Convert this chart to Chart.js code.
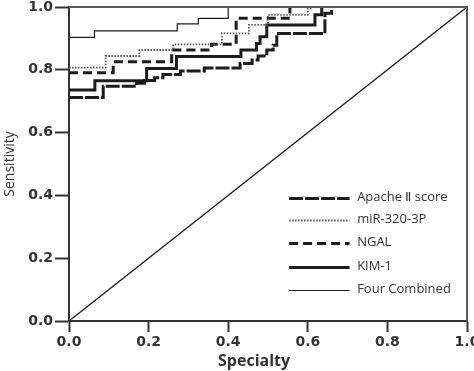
<!DOCTYPE html>
<html>
<head>
<meta charset="utf-8">
<script src="https://cdn.jsdelivr.net/npm/chart.js@4/dist/chart.umd.min.js"></script>
<style>
  html, body { margin: 0; padding: 0; background: #fff; }
  #wrap { width: 474px; height: 371px; }
</style>
</head>
<body>
<div id="wrap"><canvas id="c" width="474" height="371"></canvas></div>
<script>
// ---- Data ----
const seriesNames = ["Apache \u2161 score", "miR-320-3P", "NGAL", "KIM-1", "Four Combined"];

// Step change points: x = 1 - specificity ("Specialty" axis), y = sensitivity
const apacheX = [0, 0.086, 0.17, 0.19, 0.215, 0.236, 0.28, 0.34, 0.43, 0.46, 0.475, 0.497, 0.513, 0.522, 0.643, 0.66];
const apacheY = [0.712, 0.748, 0.757, 0.766, 0.775, 0.785, 0.796, 0.806, 0.82, 0.831, 0.844, 0.863, 0.878, 0.916, 0.98, 1.0];

const mirX = [0, 0.092, 0.177, 0.262, 0.384, 0.452, 0.50, 0.60, 0.61];
const mirY = [0.807, 0.844, 0.863, 0.881, 0.916, 0.943, 0.975, 0.995, 1.0];

const ngalX = [0, 0.111, 0.258, 0.358, 0.42, 0.555];
const ngalY = [0.791, 0.826, 0.863, 0.881, 0.964, 1.0];

const kimX = [0, 0.065, 0.195, 0.27, 0.432, 0.471, 0.48, 0.497, 0.618, 0.635];
const kimY = [0.736, 0.765, 0.804, 0.842, 0.863, 0.884, 0.905, 0.943, 0.975, 1.0];

const fourX = [0, 0.064, 0.272, 0.325, 0.40];
const fourY = [0.903, 0.924, 0.946, 0.964, 1.0];

const refX = [0, 1];
const refY = [0, 1];

const xTickValues = [0, 0.2, 0.4, 0.6, 0.8, 1.0];
const yTickValues = [0, 0.2, 0.4, 0.6, 0.8, 1.0];
const xTitle = "Specialty";
const yTitle = "Sensitivity";

// ---- Build ----
function pts(xs, ys) { return xs.map((x, i) => ({ x: x, y: ys[i] })); }

const INK = '#1c1c1c';
const TXT = '#333333';

const datasets = [
  { label: seriesNames[4], data: pts(fourX, fourY), borderColor: INK, borderWidth: 1.2 },
  { label: seriesNames[1], data: pts(mirX, mirY), borderColor: '#555', borderWidth: 1.8, borderDash: [1.5, 1.5] },
  { label: seriesNames[2], data: pts(ngalX, ngalY), borderColor: INK, borderWidth: 3, borderDash: [9, 5] },
  { label: seriesNames[3], data: pts(kimX, kimY), borderColor: INK, borderWidth: 3 },
  { label: seriesNames[0], data: pts(apacheX, apacheY), borderColor: INK, borderWidth: 3, borderDash: [14, 2] },
  { label: 'Reference', data: pts(refX, refY), borderColor: INK, borderWidth: 1.4, stepped: false }
];
datasets.forEach(d => {
  d.pointRadius = 0; d.fill = false; d.tension = 0; d.clip = false; d.borderCapStyle = 'butt';
  if (d.stepped === undefined) d.stepped = 'before';
});

const legendOrder = [seriesNames[0], seriesNames[1], seriesNames[2], seriesNames[3], seriesNames[4]];

const framePlugin = {
  id: 'frame',
  afterDatasetsDraw(chart) {
    const { ctx, chartArea: a } = chart;
    ctx.save();
    ctx.strokeStyle = '#5a5a5a';
    ctx.lineWidth = 2;
    ctx.beginPath();
    ctx.moveTo(a.left, a.top);
    ctx.lineTo(a.right, a.top);
    ctx.lineTo(a.right, a.bottom);
    ctx.stroke();
    ctx.restore();
  }
};

const legendPlugin = {
  id: 'rocLegend',
  afterDraw(chart) {
    const { ctx } = chart;
    const xs = chart.scales.x, ys = chart.scales.y;
    const x0 = xs.getPixelForValue(0.553);
    const x1 = xs.getPixelForValue(0.705);
    const xt = xs.getPixelForValue(0.724);
    const rowsY = [0.392, 0.322, 0.249, 0.173, 0.1];
    ctx.save();
    legendOrder.forEach((name, i) => {
      const ds = chart.data.datasets.find(d => d.label === name);
      const y = Math.round(ys.getPixelForValue(rowsY[i])) + 0.5;
      ctx.strokeStyle = ds.borderColor;
      ctx.lineWidth = ds.borderWidth;
      ctx.setLineDash(ds.borderDash || []);
      ctx.lineCap = 'butt';
      ctx.beginPath();
      ctx.moveTo(x0, y);
      ctx.lineTo(x1, y);
      ctx.stroke();
      ctx.setLineDash([]);
      ctx.fillStyle = TXT;
      ctx.font = '13px "Open Sans"';
      ctx.textBaseline = 'middle';
      ctx.textAlign = 'left';
      ctx.fillText(name, xt, y - 1);
    });
    // x-axis title (placed as in the reference, slightly left of centre)
    ctx.font = 'bold 16px "Open Sans"';
    ctx.textAlign = 'center';
    ctx.textBaseline = 'middle';
    ctx.fillText(xTitle, xs.getPixelForValue(0.465), xs.bottom - 10);
    ctx.restore();
  }
};

new Chart(document.getElementById('c'), {
  type: 'line',
  data: { datasets: datasets },
  plugins: [framePlugin, legendPlugin],
  options: {
    responsive: false,
    devicePixelRatio: 1,
    animation: false,
    layout: { padding: { top: 7, right: 7, left: 0, bottom: 0 } },
    plugins: { legend: { display: false }, tooltip: { enabled: false } },
    scales: {
      x: {
        type: 'linear', min: 0, max: 1,
        afterBuildTicks(s) { s.ticks = xTickValues.map(v => ({ value: v })); },
        afterFit(s) { s.height = 50; s.paddingLeft = 0; s.paddingRight = 0; },
        ticks: {
          color: TXT, padding: 2, maxRotation: 0, autoSkip: false,
          font: { family: 'DejaVu Sans', weight: 'bold', size: 14 },
          callback: v => Number(v).toFixed(1)
        },
        grid: { drawOnChartArea: false, tickLength: 11, tickWidth: 2, tickColor: '#333' },
        border: { display: true, color: '#333', width: 2 },
        title: { display: false }
      },
      y: {
        type: 'linear', min: 0, max: 1,
        afterBuildTicks(s) { s.ticks = yTickValues.map(v => ({ value: v })); },
        afterFit(s) { s.width = 69; s.paddingTop = 0; s.paddingBottom = 0; },
        ticks: {
          color: TXT, padding: 2, autoSkip: false,
          font: { family: 'DejaVu Sans', weight: 'bold', size: 14 },
          callback: v => Number(v).toFixed(1)
        },
        grid: { drawOnChartArea: false, tickLength: 14, tickWidth: 2, tickColor: '#333' },
        border: { display: true, color: '#333', width: 2 },
        title: { display: true, text: yTitle, color: TXT, padding: { top: 2, bottom: 2 },
                 font: { family: 'Open Sans', size: 14 } }
      }
    }
  }
});
</script>
</body>
</html>
